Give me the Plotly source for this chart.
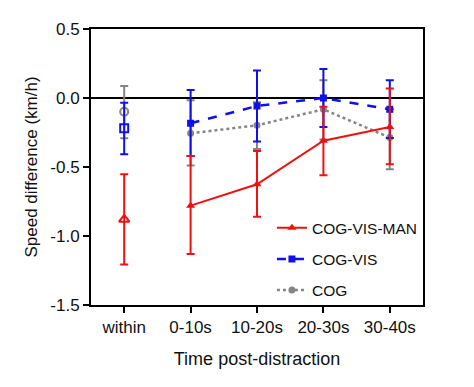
import plotly.graph_objects as go

categories = ["within", "0-10s", "10-20s", "20-30s", "30-40s"]

man_mean = [-0.88, -0.78, -0.625, -0.31, -0.21]
man_upper = [-0.553, -0.42, -0.384, -0.063, 0.068]
man_lower = [-1.207, -1.13, -0.86, -0.56, -0.48]

vis_mean = [-0.22, -0.183, -0.058, 0.0, -0.082]
vis_upper = [-0.034, 0.058, 0.20, 0.21, 0.128]
vis_lower = [-0.408, -0.42, -0.316, -0.21, -0.29]

cog_mean = [-0.10, -0.256, -0.198, -0.082, -0.287]
cog_upper = [0.087, -0.017, -0.03, 0.128, -0.08]
cog_lower = [-0.292, -0.49, -0.37, -0.30, -0.517]

series = [
    # name, mean, upper, lower, color, dash, symbol, size, rank
    ("COG", cog_mean, cog_upper, cog_lower, "#858585", "dot", "circle", 7, 3),
    ("COG-VIS", vis_mean, vis_upper, vis_lower, "#1010e8", "dash", "square", 7, 2),
    ("COG-VIS-MAN", man_mean, man_upper, man_lower, "#f01010", "solid", "triangle-up", 8, 1),
]

FONT = "Liberation Sans, Arial, sans-serif"
fig = go.Figure()

for name, mean, up, lo, color, dash, sym, size, rank in series:
    plus = [u - m for u, m in zip(up, mean)]
    minus = [m - l for m, l in zip(mean, lo)]
    # "within" point: open marker, not connected
    fig.add_trace(go.Scatter(
        x=categories[:1], y=mean[:1], mode="markers", showlegend=False,
        marker=dict(symbol=sym + "-open", size=size + 1, color=color, line=dict(width=2, color=color)),
        error_y=dict(type="data", array=plus[:1], arrayminus=minus[:1], color=color, thickness=2, width=4),
    ))
    fig.add_trace(go.Scatter(
        x=categories[1:], y=mean[1:], mode="lines+markers", name=name,
        legendrank=rank, legendgroup=name,
        line=dict(color=color, width=2.5 if dash != "solid" else 2, dash=dash),
        marker=dict(symbol=sym, size=size, color=color),
        error_y=dict(type="data", array=plus[1:], arrayminus=minus[1:], color=color, thickness=2, width=4),
    ))

fig.update_layout(
    width=474, height=387,
    margin=dict(l=91, r=51, t=29, b=82),
    paper_bgcolor="white", plot_bgcolor="white",
    font=dict(family=FONT, size=17, color="#111"),
    legend=dict(
        x=0.545, y=0.34, xanchor="left", yanchor="top",
        bgcolor="rgba(0,0,0,0)", font=dict(size=15.5, family=FONT, color="#111"),
        traceorder="grouped", tracegroupgap=8, itemwidth=30,
    ),
    xaxis=dict(
        type="category", range=[-0.5, 4.5], showgrid=False,
        showline=True, linecolor="black", linewidth=2, mirror=True,
        ticks="outside", ticklen=6, tickwidth=2, tickcolor="black",
        tickfont=dict(size=17, family=FONT, color="#111"),
        title=dict(text="Time post-distraction", font=dict(size=18, family=FONT, color="#111"), standoff=16),
    ),
    yaxis=dict(
        range=[-1.5, 0.5], tickvals=[0.5, 0.0, -0.5, -1.0, -1.5],
        ticktext=["0.5", "0.0", "-0.5", "-1.0", "-1.5"], showgrid=False,
        showline=True, linecolor="black", linewidth=2, mirror=True,
        ticks="outside", ticklen=6, tickwidth=2, tickcolor="black",
        zeroline=True, zerolinecolor="black", zerolinewidth=2,
        tickfont=dict(size=17, family=FONT, color="#111"),
        title=dict(text="Speed difference (km/h)", font=dict(size=17, family=FONT, color="#111"), standoff=8),
    ),
)

fig.write_html("out.html", config={"displayModeBar": False},
               post_script="document.body.style.margin='0';")
